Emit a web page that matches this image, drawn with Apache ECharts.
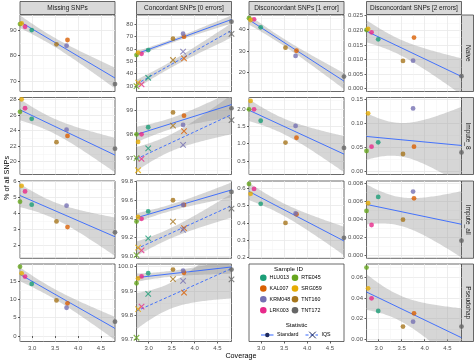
<!DOCTYPE html>
<html>
<head>
<meta charset="utf-8">
<script src="https://cdn.jsdelivr.net/npm/echarts@6/dist/echarts.min.js"></script>
<style>
  html, body { margin: 0; padding: 0; background: #fff; }
  #chart { width: 474px; height: 361px; }
</style>
</head>
<body>
<div id="chart"></div>
<script>
(function() {
// ── 数据 ──
const samples = ['HLU013', 'KAL007', 'KRM048', 'LRK003', 'RTE045', 'SRG059', 'TNT160', 'TNT172'];
const sampleColors = ['#1B9E77', '#D95F02', '#7570B3', '#E7298A', '#66A61E', '#E6AB02', '#A6761D', '#666666'];
const coverage = [2.99, 3.77, 3.75, 2.845, 2.735, 2.77, 3.53, 4.805];
const metrics = ['Missing SNPs', 'Concordant SNPs [0 errors]', 'Disconcordant SNPs [1 error]', 'Disconcordant SNPs [2 errors]'];
const methods = ['Naive', 'Impute_8', 'Impute_all', 'Pseudohap'];
const xTicks = [3.0, 3.5, 4.0, 4.5];

// Naive
const naiveMissing = [90.0, 86.1, 83.85, 91.3, 92.35, 92.6, 84.4, 68.8];
const naiveConcStd = [59.0, 69.8, 72.2, 56.0, 55.0, 57.0, 68.2, 81.9];
const naiveConcIqs = [36.7, 52.3, 57.7, 31.4, 30.0, 32.7, 51.0, 72.0];
const naiveDisc1 = [40.9, 30.1, 27.7, 44.6, 45.1, 44.3, 31.5, 18.2];
const naiveDisc2 = [0.0169, 0.0175, 0.0096, 0.0193, 0.0201, 0.0205, 0.0095, 0.0043];
// Impute_8
const imp8Missing = [25.5, 23.3, 24.1, 26.85, 26.4, 28.0, 22.5, 21.67];
const imp8ConcStd = [98.3, 98.79, 98.4, 98.0, 98.0, 97.68, 98.93, 99.1];
const imp8ConcIqs = [97.41, 98.14, 97.55, 96.96, 96.99, 96.48, 98.37, 98.6];
const imp8Disc1 = [1.66, 1.17, 1.51, 1.99, 1.99, 2.23, 1.03, 0.875];
const imp8Disc2 = [0.0609, 0.0518, 0.131, 0.0518, 0.0429, 0.121, 0.0367, 0.040];
// Impute_all
const impAllMissing = [4.53, 3.13, 4.47, 5.36, 4.72, 5.71, 3.48, 2.8];
const impAllConcStd = [99.48, 99.55, 99.55, 99.40, 99.37, 99.42, 99.60, 99.69];
const impAllConcIqs = [99.19, 99.30, 99.28, 99.06, 99.01, 99.09, 99.37, 99.51];
const impAllDisc1 = [0.51, 0.45, 0.455, 0.596, 0.625, 0.568, 0.40, 0.314];
const impAllDisc2 = [0.00649, 0.00634, 0.00708, 0.00339, 0.00494, 0.00579, 0.00398, 0.00166];
// Pseudohap
const pseudoMissing = [14.2, 8.9, 7.7, 16.2, 18.9, 17.1, 9.7, 3.9];
const pseudoConcStd = [99.973, 99.975, 99.984, 99.960, 99.932, 99.952, 99.988, 99.988];
const pseudoConcIqs = [99.888, 99.893, 99.942, 99.836, 99.708, 99.826, 99.949, 99.948];
const pseudoDisc2 = [0.0274, 0.0252, 0.0171, 0.0397, 0.0694, 0.0494, 0.0123, 0.0123];

// y 轴范围 / 刻度 / 小数位（按行、列）
const yRanges = [
  [[65.9, 95.9], [25.6, 87.3], [11.3, 46.6], [-0.00096, 0.02524]],
  [[18.36, 28.23], [96.30, 99.56], [0.11, 2.33], [-0.0058, 0.1537]],
  [[1.178, 6.01], [98.975, 99.8075], [0.196, 0.6417], [-0.00029, 0.00825]],
  [[-1.5, 19.64], [99.6926, 100.011], null, [-0.0021, 0.0729]]
];
const yTicks = [
  [[70, 80, 90], [30, 40, 50, 60, 70, 80], [20, 30, 40], [0, 0.005, 0.01, 0.015, 0.02, 0.025]],
  [[20, 22, 24, 26, 28], [97, 98, 99], [0.5, 1.0, 1.5, 2.0], [0, 0.05, 0.10, 0.15]],
  [[2, 3, 4, 5, 6], [99.0, 99.2, 99.4, 99.6, 99.8], [0.2, 0.3, 0.4, 0.5, 0.6], [0, 0.002, 0.004, 0.006, 0.008]],
  [[0, 5, 10, 15], [99.7, 99.8, 99.9, 100.0], null, [0, 0.02, 0.04, 0.06]]
];
const yDecimals = [[0, 0, 0, 3], [0, 0, 1, 2], [0, 1, 1, 3], [0, 1, 0, 2]];

const panels = [
  [naiveMissing, [naiveConcStd, naiveConcIqs], naiveDisc1, naiveDisc2],
  [imp8Missing, [imp8ConcStd, imp8ConcIqs], imp8Disc1, imp8Disc2],
  [impAllMissing, [impAllConcStd, impAllConcIqs], impAllDisc1, impAllDisc2],
  [pseudoMissing, [pseudoConcStd, pseudoConcIqs], null, pseudoDisc2]
];

// ── 布局 ──
const FONT = '"Liberation Sans", Arial, sans-serif';
const colLeft = [20, 136.5, 249, 366.5], colW = 95;
const rowTop = [15, 97.5, 181, 264], rowH = [76.5, 77, 77.3, 77.5];
const SMOOTH = '#3366FF', BAND = 'rgba(153,153,153,0.4)';
const CROSS = 'path://M0,0L10,10M10,0L0,10';

const xMin = Math.min(...coverage), xMax = Math.max(...coverage);

function minorsOf(t, lo, hi) {
  const step = t[1] - t[0], out = [];
  for (let i = -1; i < t.length; i++) {
    const v = +(t[0] + step * (i + 0.5)).toFixed(8);
    if (v >= lo && v <= hi) out.push(v);
  }
  return out;
}

// 线性回归 + 95% 置信带（geom_smooth(method='lm')）
function fitLm(xs, ys) {
  const n = xs.length;
  const mx = xs.reduce((a, b) => a + b, 0) / n, my = ys.reduce((a, b) => a + b, 0) / n;
  let sxx = 0, sxy = 0;
  xs.forEach((x, i) => { sxx += (x - mx) * (x - mx); sxy += (x - mx) * (ys[i] - my); });
  const b = sxy / sxx, a = my - b * mx;
  let sse = 0;
  xs.forEach((x, i) => { const r = ys[i] - (a + b * x); sse += r * r; });
  const s = Math.sqrt(sse / (n - 2));
  const t = 2.446912; // qt(0.975, 6)
  const lo = Math.min(...xs), hi = Math.max(...xs);
  const band = [];
  for (let k = 0; k <= 60; k++) {
    const x = lo + (hi - lo) * k / 60, yh = a + b * x;
    const se = s * Math.sqrt(1 / n + (x - mx) * (x - mx) / sxx);
    band.push([x, yh - t * se, yh + t * se]);
  }
  return { line: [[lo, a + b * lo], [hi, a + b * hi]], band };
}

const grids = [], xAxes = [], yAxes = [], series = [], graphic = [];
const tickStyle = { color: '#333', width: 0.8 };
const labelStyle = { fontSize: 6, color: '#4D4D4D', fontFamily: FONT };

function addPanel(r, c) {
  const gi = grids.length;
  const empty = panels[r][c] === null;
  grids.push({ left: colLeft[c], top: rowTop[r], width: colW, height: rowH[r],
    show: true, backgroundColor: '#fff', borderColor: '#444', borderWidth: 0.8 });
  const bottom = r === 3;
  xAxes.push({ type: 'value', gridIndex: gi, min: xMin, max: xMax, position: 'bottom',
    axisLine: { show: false },
    axisTick: { show: bottom, length: 2, lineStyle: tickStyle, customValues: xTicks },
    axisLabel: Object.assign({ show: bottom, margin: 3.5, customValues: xTicks, formatter: v => v.toFixed(1) }, labelStyle),
    splitLine: { show: !empty, lineStyle: { color: '#E8E8E8', width: 0.8 } } });
  xAxes.push({ type: 'value', gridIndex: gi, min: xMin, max: xMax, position: 'bottom',
    axisLine: { show: false }, axisLabel: { show: false },
    axisTick: { show: false, customValues: minorsOf(xTicks, xMin, xMax) },
    splitLine: { show: !empty, lineStyle: { color: '#F3F3F3', width: 0.5 } } });
  if (empty) {
    yAxes.push({ type: 'value', gridIndex: gi, min: 0, max: 1, show: false });
    yAxes.push({ type: 'value', gridIndex: gi, min: 0, max: 1, show: false });
    return;
  }
  const [yMin, yMax] = yRanges[r][c], ticks = yTicks[r][c], dec = yDecimals[r][c];
  yAxes.push({ type: 'value', gridIndex: gi, min: yMin, max: yMax,
    axisLine: { show: false },
    axisTick: { show: true, length: 2, lineStyle: tickStyle, customValues: ticks },
    axisLabel: Object.assign({ margin: 3.5, customValues: ticks, formatter: v => v.toFixed(dec) }, labelStyle),
    splitLine: { show: true, lineStyle: { color: '#E8E8E8', width: 0.8 } } });
  yAxes.push({ type: 'value', gridIndex: gi, min: yMin, max: yMax,
    axisLine: { show: false }, axisLabel: { show: false },
    axisTick: { show: false, customValues: minorsOf(ticks, yMin, yMax) },
    splitLine: { show: true, lineStyle: { color: '#F3F3F3', width: 0.5 } } });

  const sets = Array.isArray(panels[r][c][0]) ? panels[r][c] : [panels[r][c]];
  sets.forEach((ys, k) => {
    const fit = fitLm(coverage, ys);
    series.push({ type: 'custom', xAxisIndex: gi * 2, yAxisIndex: gi * 2, clip: true, silent: true, z: 2,
      data: fit.band, encode: { x: 0, y: [1, 2] },
      renderItem: (params, api) => {
        if (params.dataIndex !== 0) return;
        const pts = fit.band.map(p => api.coord([p[0], p[2]]));
        for (let i = fit.band.length - 1; i >= 0; i--) pts.push(api.coord([fit.band[i][0], fit.band[i][1]]));
        return { type: 'polygon', shape: { points: pts }, style: { fill: BAND } };
      } });
    series.push({ type: 'line', xAxisIndex: gi * 2, yAxisIndex: gi * 2, data: fit.line, symbol: 'none',
      silent: true, z: 3, lineStyle: { color: SMOOTH, width: 0.9, type: k === 1 ? [3, 2] : 'solid' } });
    series.push({ type: 'scatter', xAxisIndex: gi * 2, yAxisIndex: gi * 2, clip: false, silent: true, z: 4,
      symbol: k === 1 ? CROSS : 'circle', symbolSize: k === 1 ? 5.5 : 4.8,
      data: ys.map((y, i) => ({ value: [coverage[i], y],
        itemStyle: k === 1 ? { color: 'rgba(0,0,0,0)', borderColor: sampleColors[i], borderWidth: 1.1 }
                           : { color: sampleColors[i] } })) });
  });
}

for (let r = 0; r < 4; r++) for (let c = 0; c < 4; c++) addPanel(r, c);

// ── 分面标签 ──
metrics.forEach((m, c) => {
  graphic.push({ type: 'rect', shape: { x: colLeft[c], y: 1.5, width: colW, height: 13 },
    style: { fill: '#D9D9D9', stroke: '#444', lineWidth: 0.8 } });
  graphic.push({ type: 'text', x: colLeft[c] + colW / 2, y: 8.2,
    style: { text: m, fontSize: 6.5, fontFamily: FONT, fill: '#1A1A1A', align: 'center', verticalAlign: 'middle' } });
});
methods.forEach((m, r) => {
  graphic.push({ type: 'rect', shape: { x: 461.5, y: rowTop[r], width: 12, height: rowH[r] },
    style: { fill: '#D9D9D9', stroke: '#444', lineWidth: 0.8 } });
  graphic.push({ type: 'text', x: 467.7, y: rowTop[r] + rowH[r] / 2, rotation: -Math.PI / 2,
    style: { text: m, fontSize: 6.5, fontFamily: FONT, fill: '#1A1A1A', align: 'center', verticalAlign: 'middle' } });
});

// ── 轴标题 ──
graphic.push({ type: 'text', x: 7.5, y: 178, rotation: Math.PI / 2,
  style: { text: '% of all SNPs', fontSize: 7.2, fontFamily: FONT, fill: '#000', align: 'center', verticalAlign: 'middle' } });
graphic.push({ type: 'text', x: 241, y: 356.5,
  style: { text: 'Coverage', fontSize: 7.2, fontFamily: FONT, fill: '#000', align: 'center', verticalAlign: 'middle' } });

// ── 图例（放在空白分面内）──
const lg = [];
lg.push({ type: 'text', x: 288.5, y: 268.8,
  style: { text: 'Sample ID', fontSize: 6.2, fontFamily: FONT, fill: '#000', align: 'center', verticalAlign: 'middle' } });
samples.forEach((s, i) => {
  const col = Math.floor(i / 4), row = i % 4;
  const cx = col ? 295 : 263.3, cy = [277.7, 288.5, 299.3, 310.2][row];
  lg.push({ type: 'circle', shape: { cx, cy, r: 3.3 }, style: { fill: sampleColors[i] } });
  lg.push({ type: 'text', x: cx + 6.3, y: cy,
    style: { text: s, fontSize: 5.3, fontFamily: FONT, fill: '#000', align: 'left', verticalAlign: 'middle' } });
});
lg.push({ type: 'text', x: 296.5, y: 325,
  style: { text: 'Statistic', fontSize: 6.2, fontFamily: FONT, fill: '#000', align: 'center', verticalAlign: 'middle' } });
lg.push({ type: 'line', shape: { x1: 261, y1: 335, x2: 273.5, y2: 335 }, style: { stroke: SMOOTH, lineWidth: 1 } });
lg.push({ type: 'circle', shape: { cx: 267.3, cy: 335, r: 2.2 }, style: { fill: '#1F2A5C' } });
lg.push({ type: 'text', x: 277, y: 335,
  style: { text: 'Standard', fontSize: 5.3, fontFamily: FONT, fill: '#000', align: 'left', verticalAlign: 'middle' } });
lg.push({ type: 'line', shape: { x1: 305.5, y1: 335, x2: 318, y2: 335 }, style: { stroke: SMOOTH, lineWidth: 1, lineDash: [3, 2] } });
lg.push({ type: 'polyline', shape: { points: [[309.2, 331.7], [315.8, 338.3]] }, style: { stroke: '#1F2A5C', lineWidth: 1 } });
lg.push({ type: 'polyline', shape: { points: [[315.8, 331.7], [309.2, 338.3]] }, style: { stroke: '#1F2A5C', lineWidth: 1 } });
lg.push({ type: 'text', x: 321.5, y: 335,
  style: { text: 'IQS', fontSize: 5.3, fontFamily: FONT, fill: '#000', align: 'left', verticalAlign: 'middle' } });
graphic.push({ type: 'group', z: 100, children: lg });

const chart = echarts.init(document.getElementById('chart'));
chart.setOption({
  animation: false,
  backgroundColor: '#fff',
  textStyle: { fontFamily: FONT },
  grid: grids, xAxis: xAxes, yAxis: yAxes, series, graphic
});
})();
</script>
</body>
</html>
